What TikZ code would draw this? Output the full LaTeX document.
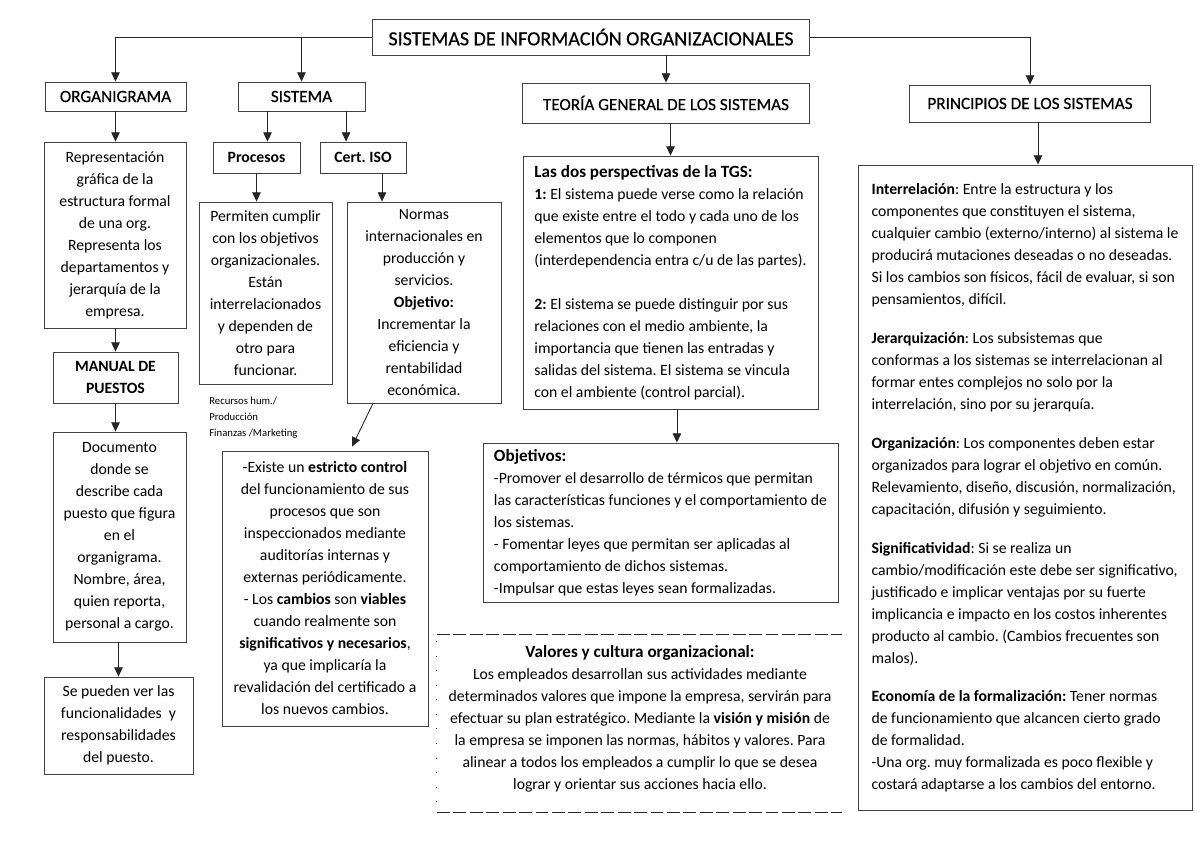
\documentclass[tikz,border=0pt]{standalone}
\usepackage{fontspec}
\setmainfont{Carlito}
\newfontfamily\headFont{Carlito}[FakeBold=0.5]
\usetikzlibrary{arrows.meta}
\frenchspacing
\def\bodySize{\fontsize{11}{15.4}\selectfont}
\def\headSize{\fontsize{12}{15.4}\selectfont}
\tikzset{
	boxNode/.style={draw=black!75, line width=0.6pt, inner sep=0pt, align=center, font=\bodySize},
	headBox/.style={boxNode, font=\headFont\headSize},
	textBox/.style={draw=black!75, line width=0.6pt, inner sep=0pt, align=left, font=\bodySize},
	arrowLine/.style={draw=black!85, line width=0.6pt, -{Triangle[width=6pt,length=6.5pt]}},
	dashLine/.style={draw=black!85, line width=0.6pt, dash pattern=on 9pt off 2.5pt}
}

\begin{document}
\begin{tikzpicture}[x=0.7pt, y=-0.7pt]
	\useasboundingbox (0,0) rectangle (1200,848);

	%main title and the four branches
	\node[headBox, font=\headFont\fontsize{14}{16}\selectfont, minimum width=305.9pt, minimum height=25.2pt] (title) at (591,37) {SISTEMAS DE INFORMACIÓN ORGANIZACIONALES};
	\node[headBox, minimum width=98.7pt, minimum height=20.3pt] (orga) at (115.5,96.5) {ORGANIGRAMA};
	\node[headBox, minimum width=88.9pt, minimum height=20.3pt] (sistema) at (301.5,96.5) {SISTEMA};
	\node[headBox, minimum width=200.9pt, minimum height=28pt] (tgs) at (666,103) {TEORÍA GENERAL DE LOS SISTEMAS};
	\node[headBox, minimum width=168.7pt, minimum height=25.9pt] (principios) at (1030,103.5) {PRINCIPIOS DE LOS SISTEMAS};

	\draw[arrowLine] (title.west) -| (orga.north);
	\draw[arrowLine] (title.west -| sistema.north) -- (sistema.north);
	\draw[arrowLine] (title.south -| tgs.north) -- (tgs.north);
	\draw[arrowLine] (title.east) -| (principios.north);

	%organigrama column
	\node[boxNode, minimum width=99.4pt, minimum height=130.2pt] (repr) at (115,235) {Representación\\gráfica de la\\estructura formal\\de una org.\\Representa los\\departamentos y\\jerarquía de la\\empresa.};
	\node[boxNode, font=\bodySize\bfseries, minimum width=87.5pt, minimum height=35.7pt] (manual) at (115.5,377.5) {MANUAL DE\\PUESTOS};
	\node[boxNode, minimum width=93.1pt, minimum height=147pt] (doc) at (119.5,537) {Documento\\donde se\\describe cada\\puesto que figura\\en el\\organigrama.\\Nombre, área,\\quien reporta,\\personal a cargo.};
	\node[boxNode, minimum width=104.3pt, minimum height=67.9pt] (verPuesto) at (118.5,725.5) {Se pueden ver las\\funcionalidades\ \ y\\responsabilidades\\del puesto.};

	\draw[arrowLine] (orga.south) -- (orga.south |- repr.north);
	\draw[arrowLine] (repr.south -| manual.south) -- (manual.north);
	\draw[arrowLine] (manual.south) -- (manual.south |- doc.north);
	\draw[arrowLine] (doc.south -| verPuesto.north) -- (verPuesto.north);

	%sistema column
	\node[boxNode, font=\bodySize\bfseries, minimum width=60.9pt, minimum height=21.7pt] (procesos) at (256.5,157.5) {Procesos};
	\node[boxNode, font=\bodySize\bfseries, minimum width=60.2pt, minimum height=21.7pt] (cert) at (363,157.5) {Cert. ISO};
	\node[boxNode, minimum width=93.1pt, minimum height=127.4pt] (permiten) at (265.5,293) {Permiten cumplir\\con los objetivos\\organizacionales.\\Están\\interrelacionados\\y dependen de\\otro para\\funcionar.};
	\node[boxNode, minimum width=107.8pt, minimum height=140.7pt] (normas) at (424,302.5) {Normas\\internacionales en\\producción y\\servicios.\\\textbf{Objetivo:}\\Incrementar la\\eficiencia y\\rentabilidad\\económica.};
	\node[anchor=north west, inner sep=0pt, align=left, font=\fontsize{7.5}{11.2}\selectfont] (recursos) at (209,397) {Recursos hum./\\Producción\\Finanzas /Marketing};
	\node[boxNode, minimum width=144.2pt, minimum height=192.5pt] (estricto) at (325,588.5) {-Existe un \textbf{estricto control}\\del funcionamiento de sus\\procesos que son\\inspeccionados mediante\\auditorías internas y\\externas periódicamente.\\- Los \textbf{cambios} son \textbf{viables}\\cuando realmente son\\\textbf{significativos y necesarios},\\ya que implicaría la\\revalidación del certificado a\\los nuevos cambios.};

	\draw[arrowLine] ([xshift=-23.8pt]sistema.south) -- ([xshift=-23.8pt]sistema.south |- procesos.north);
	\draw[arrowLine] ([xshift=31.2pt]sistema.south) -- ([xshift=31.2pt]sistema.south |- cert.north);
	\draw[arrowLine] (procesos.south) -- (procesos.south |- permiten.north);
	\draw[arrowLine] ([xshift=13.3pt]cert.south) -- ([xshift=13.3pt]cert.south |- normas.north);
	\draw[arrowLine] ([xshift=-35.7pt]normas.south) -- ([xshift=18.9pt,yshift=2.8pt]estricto.north);

	%teoria general column
	\node[textBox, minimum width=206.5pt, minimum height=177.1pt] (lasdos) at (670.5,282.5) {{\headSize\bfseries Las dos perspectivas de la TGS:}\\\textbf{1:} El sistema puede verse como la relación\\que existe entre el todo y cada uno de los\\elementos que lo componen\\(interdependencia entra c/u de las partes).\\[15.4pt]\textbf{2:} El sistema se puede distinguir por sus\\relaciones con el medio ambiente, la\\importancia que tienen las entradas y\\salidas del sistema. El sistema se vincula\\con el ambiente (control parcial).};
	\node[textBox, minimum width=248.5pt, minimum height=111.3pt] (objetivos) at (660.5,522.5) {{\headSize\bfseries Objetivos:}\\-Promover el desarrollo de térmicos que permitan\\las características funciones y el comportamiento de\\los sistemas.\\- Fomentar leyes que permitan ser aplicadas al\\comportamiento de dichos sistemas.\\-Impulsar que estas leyes sean formalizadas.};

	\draw[arrowLine] (tgs.south -| lasdos.north) -- (lasdos.north);
	\draw[arrowLine] ([xshift=4.5pt]lasdos.south) -- ([xshift=4.5pt]lasdos.south |- objetivos.north);

	%valores, dashed frame
	\node[inner sep=0pt, align=center, font=\bodySize] (valores) at (640,719) {{\headSize\bfseries Valores y cultura organizacional:}\\Los empleados desarrollan sus actividades mediante\\determinados valores que impone la empresa, servirán para\\efectuar su plan estratégico. Mediante la \textbf{visión y misión} de\\la empresa se imponen las normas, hábitos y valores. Para\\alinear a todos los empleados a cumplir lo que se desea\\lograr y orientar sus acciones hacia ello.};
	\draw[dashLine] (437,634) -- (842,634);
	\draw[dashLine] (437,812) -- (842,812);
	\draw[draw=black!85, line width=0.7pt, dash pattern=on 0.7pt off 9.5pt] (436,641) -- (436,806);

	%principios column
	\node[textBox, minimum width=233.8pt, minimum height=451.5pt] (contenido) at (1025,487.5) {\textbf{Interrelación}: Entre la estructura y los\\componentes que constituyen el sistema,\\cualquier cambio (externo/interno) al sistema le\\producirá mutaciones deseadas o no deseadas.\\Si los cambios son físicos, fácil de evaluar, si son\\pensamientos, difícil.\\[12pt]\textbf{Jerarquización}: Los subsistemas que\\conformas a los sistemas se interrelacionan al\\formar entes complejos no solo por la\\interrelación, sino por su jerarquía.\\[12pt]\textbf{Organización}: Los componentes deben estar\\organizados para lograr el objetivo en común.\\Relevamiento, diseño, discusión, normalización,\\capacitación, difusión y seguimiento.\\[12pt]\textbf{Significatividad}: Si se realiza un\\cambio/modificación este debe ser significativo,\\justificado e implicar ventajas por su fuerte\\implicancia e impacto en los costos inherentes\\producto al cambio. (Cambios frecuentes son\\malos).\\[11pt]\textbf{Economía de la formalización:} Tener normas\\de funcionamiento que alcancen cierto grado\\de formalidad.\\-Una org. muy formalizada es poco flexible y\\costará adaptarse a los cambios del entorno.};

	\draw[arrowLine] ([xshift=5.6pt]principios.south) -- ([xshift=5.6pt]principios.south |- contenido.north);

\end{tikzpicture}
\end{document}
